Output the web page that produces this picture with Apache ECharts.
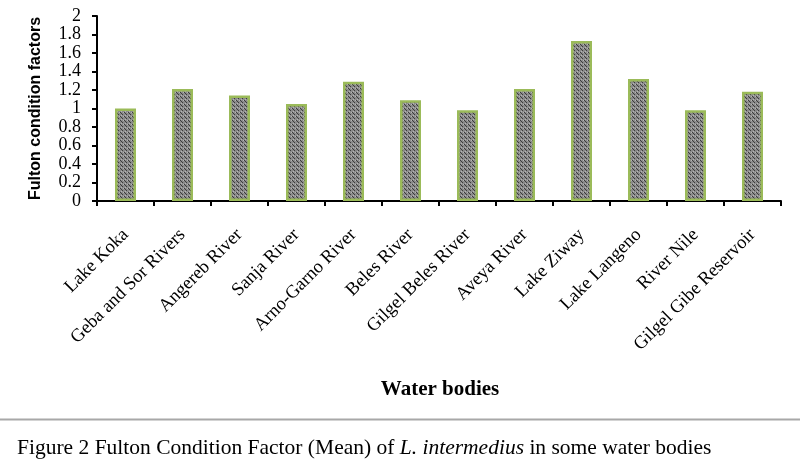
<!DOCTYPE html>
<html>
<head>
    <meta charset="utf-8">
    <title>Fulton condition factor</title>
    <script src="https://cdn.jsdelivr.net/npm/echarts@6/dist/echarts.min.js"></script>
    <style>
        html, body { margin: 0; padding: 0; background: #fff; }
        #chart1 { width: 800px; height: 464px; }
    </style>
</head>
<body>
<div id="chart1"></div>
<script type="text/javascript">
    // data
    var waterBodies = ['Lake Koka', 'Geba and Sor Rivers', 'Angereb River', 'Sanja River',
        'Arno-Garno River', 'Beles River', 'Gilgel Beles River', 'Aveya River',
        'Lake Ziway', 'Lake Langeno', 'River Nile', 'Gilgel Gibe Reservoir'];
    var fultonK = [1.00, 1.21, 1.14, 1.05, 1.29, 1.09, 0.98, 1.21, 1.73, 1.32, 0.98, 1.18];
    var yTicks = [0, 0.2, 0.4, 0.6, 0.8, 1, 1.2, 1.4, 1.6, 1.8, 2];

    // dotted grey fill like the original bars
    var pat = document.createElement('canvas');
    pat.width = 4; pat.height = 4;
    var pc = pat.getContext('2d');
    pc.fillStyle = '#8a8a8a';
    pc.fillRect(0, 0, 4, 4);
    pc.fillStyle = '#3c3c3c';
    pc.fillRect(0, 0, 1, 1);
    pc.fillRect(2, 2, 1, 1);
    pc.fillRect(1, 1, 1, 1);
    pc.fillStyle = '#b5b5b5';
    pc.fillRect(3, 0, 1, 1);
    pc.fillRect(1, 3, 1, 1);

    var myChart1 = echarts.init(document.getElementById('chart1'));
    myChart1.setOption({
        animation: false,
        backgroundColor: '#fff',
        grid: { left: 97, right: 19, top: 16, bottom: 263, containLabel: false },
        title: {
            text: 'Figure 2 Fulton Condition Factor (Mean) of {i|L. intermedius} in some water bodies',
            left: 12,
            top: 432,
            textStyle: {
                fontFamily: 'Liberation Serif',
                fontSize: 21.5,
                fontWeight: 'normal',
                color: '#000',
                rich: {
                    i: { fontFamily: 'Liberation Serif', fontSize: 21.5, fontStyle: 'italic', color: '#000' }
                }
            }
        },
        graphic: [
            {
                type: 'text',
                x: 440,
                y: 390,
                style: {
                    text: 'Water bodies',
                    font: 'bold 21px "Liberation Serif"',
                    fill: '#000',
                    align: 'center',
                    verticalAlign: 'middle'
                }
            },
            {
                type: 'line',
                shape: { x1: 0, y1: 419.5, x2: 800, y2: 419.5 },
                style: { stroke: '#a8a8a8', lineWidth: 2 }
            }
        ],
        xAxis: {
            type: 'category',
            data: waterBodies,
            axisLine: { lineStyle: { color: '#000', width: 2 } },
            axisTick: { show: true, length: 5, lineStyle: { color: '#000', width: 2 } },
            axisLabel: {
                rotate: 45,
                margin: 31,
                color: '#000',
                fontFamily: 'Liberation Serif',
                fontSize: 18.5,
                hideOverlap: false
            }
        },
        yAxis: {
            type: 'value',
            min: 0,
            max: 2,
            interval: 0.2,
            name: 'Fulton condition factors',
            nameLocation: 'middle',
            nameGap: 53,
            nameTextStyle: {
                fontFamily: 'Liberation Sans',
                fontWeight: 'bold',
                fontSize: 16,
                color: '#000'
            },
            splitLine: { show: false },
            axisLine: { show: true, lineStyle: { color: '#000', width: 2 } },
            axisTick: { show: true, length: 5, lineStyle: { color: '#000', width: 2 } },
            axisLabel: {
                color: '#000',
                fontFamily: 'Liberation Serif',
                fontSize: 18,
                lineHeight: 14,
                margin: 16,
                showMinLabel: true,
                showMaxLabel: true,
                hideOverlap: false,
                formatter: function (v) {
                    var t = yTicks.filter(function (k) { return Math.abs(k - v) < 1e-6; });
                    return t.length ? String(t[0]) : '';
                }
            }
        },
        series: [{
            name: 'Fulton condition factor',
            type: 'bar',
            data: fultonK,
            barWidth: 21,
            itemStyle: {
                color: { image: pat, repeat: 'repeat' },
                borderColor: '#9bbb59',
                borderWidth: 2.5
            }
        }]
    });
</script>
</body>
</html>
